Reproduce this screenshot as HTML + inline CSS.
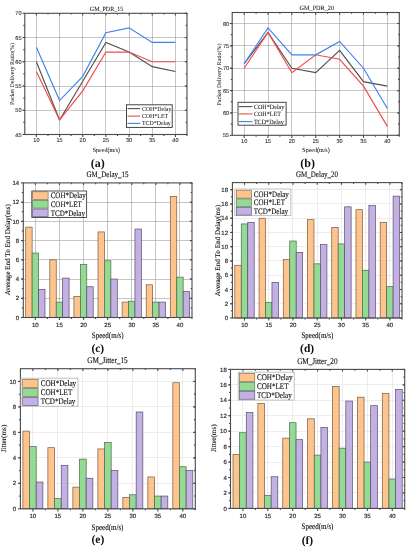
<!DOCTYPE html>
<html><head><meta charset="utf-8"><style>
html,body{margin:0;padding:0;background:#fff;width:409px;height:550px;overflow:hidden;}
svg{display:block;text-rendering:geometricPrecision;filter:blur(0.25px);}
</style></head><body>
<svg width="409" height="550" viewBox="0 0 409 550"><g stroke="#a0a0a0" stroke-width="0.6"><line x1="36.5" y1="13.3" x2="36.5" y2="134.5"/><line x1="59.5" y1="13.3" x2="59.5" y2="134.5"/><line x1="82.5" y1="13.3" x2="82.5" y2="134.5"/><line x1="105.5" y1="13.3" x2="105.5" y2="134.5"/><line x1="129.5" y1="13.3" x2="129.5" y2="134.5"/><line x1="152.5" y1="13.3" x2="152.5" y2="134.5"/><line x1="175.5" y1="13.3" x2="175.5" y2="134.5"/><line x1="24.8" y1="110.5" x2="187" y2="110.5"/><line x1="24.8" y1="86.5" x2="187" y2="86.5"/><line x1="24.8" y1="61.5" x2="187" y2="61.5"/><line x1="24.8" y1="37.5" x2="187" y2="37.5"/></g>
<polyline fill="none" stroke="#505050" stroke-width="1.15" stroke-linejoin="miter" points="36.39,61.78 59.56,119.96 82.73,81.17 105.9,42.39 129.07,52.08 152.24,66.63 175.41,71.48"/>
<polyline fill="none" stroke="#f24a4a" stroke-width="1.15" stroke-linejoin="miter" points="36.39,71.48 59.56,119.96 82.73,90.87 105.9,52.08 129.07,52.08 152.24,61.78 175.41,61.78"/>
<polyline fill="none" stroke="#3d82ec" stroke-width="1.15" stroke-linejoin="miter" points="36.39,47.24 59.56,100.56 82.73,76.32 105.9,32.69 129.07,27.84 152.24,42.39 175.41,42.39"/>
<g stroke="#4a4a4a" stroke-width="1.1" fill="none"><rect x="24.8" y="13.3" width="162.2" height="121.2" fill="none"/><line x1="36.39" y1="134.5" x2="36.39" y2="137.1"/><line x1="36.39" y1="13.3" x2="36.39" y2="15.5"/><line x1="59.56" y1="134.5" x2="59.56" y2="137.1"/><line x1="59.56" y1="13.3" x2="59.56" y2="15.5"/><line x1="82.73" y1="134.5" x2="82.73" y2="137.1"/><line x1="82.73" y1="13.3" x2="82.73" y2="15.5"/><line x1="105.9" y1="134.5" x2="105.9" y2="137.1"/><line x1="105.9" y1="13.3" x2="105.9" y2="15.5"/><line x1="129.07" y1="134.5" x2="129.07" y2="137.1"/><line x1="129.07" y1="13.3" x2="129.07" y2="15.5"/><line x1="152.24" y1="134.5" x2="152.24" y2="137.1"/><line x1="152.24" y1="13.3" x2="152.24" y2="15.5"/><line x1="175.41" y1="134.5" x2="175.41" y2="137.1"/><line x1="175.41" y1="13.3" x2="175.41" y2="15.5"/><line x1="47.97" y1="134.5" x2="47.97" y2="136"/><line x1="47.97" y1="13.3" x2="47.97" y2="14.6"/><line x1="71.14" y1="134.5" x2="71.14" y2="136"/><line x1="71.14" y1="13.3" x2="71.14" y2="14.6"/><line x1="94.31" y1="134.5" x2="94.31" y2="136"/><line x1="94.31" y1="13.3" x2="94.31" y2="14.6"/><line x1="117.49" y1="134.5" x2="117.49" y2="136"/><line x1="117.49" y1="13.3" x2="117.49" y2="14.6"/><line x1="140.66" y1="134.5" x2="140.66" y2="136"/><line x1="140.66" y1="13.3" x2="140.66" y2="14.6"/><line x1="163.83" y1="134.5" x2="163.83" y2="136"/><line x1="163.83" y1="13.3" x2="163.83" y2="14.6"/><line x1="187" y1="134.5" x2="187" y2="136"/><line x1="187" y1="13.3" x2="187" y2="14.6"/><line x1="22.4" y1="134.5" x2="24.8" y2="134.5"/><line x1="184.8" y1="134.5" x2="187" y2="134.5"/><line x1="22.4" y1="110.26" x2="24.8" y2="110.26"/><line x1="184.8" y1="110.26" x2="187" y2="110.26"/><line x1="22.4" y1="86.02" x2="24.8" y2="86.02"/><line x1="184.8" y1="86.02" x2="187" y2="86.02"/><line x1="22.4" y1="61.78" x2="24.8" y2="61.78"/><line x1="184.8" y1="61.78" x2="187" y2="61.78"/><line x1="22.4" y1="37.54" x2="24.8" y2="37.54"/><line x1="184.8" y1="37.54" x2="187" y2="37.54"/><line x1="22.4" y1="13.3" x2="24.8" y2="13.3"/><line x1="184.8" y1="13.3" x2="187" y2="13.3"/><line x1="23.3" y1="122.38" x2="24.8" y2="122.38"/><line x1="185.7" y1="122.38" x2="187" y2="122.38"/><line x1="23.3" y1="110.26" x2="24.8" y2="110.26"/><line x1="185.7" y1="110.26" x2="187" y2="110.26"/><line x1="23.3" y1="98.14" x2="24.8" y2="98.14"/><line x1="185.7" y1="98.14" x2="187" y2="98.14"/><line x1="23.3" y1="86.02" x2="24.8" y2="86.02"/><line x1="185.7" y1="86.02" x2="187" y2="86.02"/><line x1="23.3" y1="73.9" x2="24.8" y2="73.9"/><line x1="185.7" y1="73.9" x2="187" y2="73.9"/><line x1="23.3" y1="61.78" x2="24.8" y2="61.78"/><line x1="185.7" y1="61.78" x2="187" y2="61.78"/><line x1="23.3" y1="49.66" x2="24.8" y2="49.66"/><line x1="185.7" y1="49.66" x2="187" y2="49.66"/><line x1="23.3" y1="37.54" x2="24.8" y2="37.54"/><line x1="185.7" y1="37.54" x2="187" y2="37.54"/><line x1="23.3" y1="25.42" x2="24.8" y2="25.42"/><line x1="185.7" y1="25.42" x2="187" y2="25.42"/></g>
<g font-family='"Liberation Sans", sans-serif' font-size="5.6" fill="#333" stroke="#333" stroke-width="0.1"><text x="36.39" y="142.4" text-anchor="middle">10</text><text x="59.56" y="142.4" text-anchor="middle">15</text><text x="82.73" y="142.4" text-anchor="middle">20</text><text x="105.9" y="142.4" text-anchor="middle">25</text><text x="129.07" y="142.4" text-anchor="middle">30</text><text x="152.24" y="142.4" text-anchor="middle">35</text><text x="175.41" y="142.4" text-anchor="middle">40</text><text x="21.6" y="136.52" text-anchor="end">45</text><text x="21.6" y="112.28" text-anchor="end">50</text><text x="21.6" y="88.04" text-anchor="end">55</text><text x="21.6" y="63.8" text-anchor="end">60</text><text x="21.6" y="39.56" text-anchor="end">65</text><text x="21.6" y="15.32" text-anchor="end">70</text></g>
<text transform="translate(106.5,10.8) scale(1,1.05)" x="0" y="0" text-anchor="middle" font-family='"Liberation Serif", serif' font-size="6" fill="#111" stroke="#111" stroke-width="0.04">GM_PDR_15</text>
<text transform="translate(106.4,151.6) scale(1,1.05)" x="0" y="0" text-anchor="middle" font-family='"Liberation Serif", serif' font-size="6" fill="#111" stroke="#111" stroke-width="0.04">Speed(m/s)</text>
<text transform="translate(12,74) rotate(-90)" x="0" y="1.98" text-anchor="middle" font-family='"Liberation Serif", serif' font-size="6" fill="#111" stroke="#111" stroke-width="0.04">Packet Delivery Ratio(%)</text>
<text transform="translate(97.8,167.2)" x="0" y="0" text-anchor="middle" font-family='"Liberation Serif", serif' font-size="12" fill="#111" font-weight="bold">(a)</text>
<rect x="126.5" y="104.8" width="45.7" height="22.6" fill="#fff" stroke="#333" stroke-width="0.9"/>
<line x1="127.6" y1="108.6" x2="140.2" y2="108.6" stroke="#505050" stroke-width="1.1"/>
<text transform="translate(141.9,110.64) scale(1,1.05)" x="0" y="0" text-anchor="start" font-family='"Liberation Serif", serif' font-size="5.9" fill="#111" stroke="#111" stroke-width="0.03">COH*Delay</text>
<line x1="127.6" y1="116.1" x2="140.2" y2="116.1" stroke="#f24a4a" stroke-width="1.1"/>
<text transform="translate(141.9,118.14) scale(1,1.05)" x="0" y="0" text-anchor="start" font-family='"Liberation Serif", serif' font-size="5.9" fill="#111" stroke="#111" stroke-width="0.03">COH*LET</text>
<line x1="127.6" y1="123.4" x2="140.2" y2="123.4" stroke="#3d82ec" stroke-width="1.1"/>
<text transform="translate(141.9,125.44) scale(1,1.05)" x="0" y="0" text-anchor="start" font-family='"Liberation Serif", serif' font-size="5.9" fill="#111" stroke="#111" stroke-width="0.03">TCD*Delay</text>
<g stroke="#a0a0a0" stroke-width="0.6"><line x1="244.5" y1="12.5" x2="244.5" y2="135.3"/><line x1="268.5" y1="12.5" x2="268.5" y2="135.3"/><line x1="291.5" y1="12.5" x2="291.5" y2="135.3"/><line x1="315.5" y1="12.5" x2="315.5" y2="135.3"/><line x1="339.5" y1="12.5" x2="339.5" y2="135.3"/><line x1="363.5" y1="12.5" x2="363.5" y2="135.3"/><line x1="387.5" y1="12.5" x2="387.5" y2="135.3"/><line x1="232.2" y1="112.5" x2="399.3" y2="112.5"/><line x1="232.2" y1="90.5" x2="399.3" y2="90.5"/><line x1="232.2" y1="68.5" x2="399.3" y2="68.5"/><line x1="232.2" y1="45.5" x2="399.3" y2="45.5"/><line x1="232.2" y1="23.5" x2="399.3" y2="23.5"/></g>
<polyline fill="none" stroke="#505050" stroke-width="1.15" stroke-linejoin="miter" points="244.14,63.75 268.01,32.44 291.88,68.22 315.75,72.69 339.62,50.33 363.49,81.64 387.36,86.11"/>
<polyline fill="none" stroke="#f24a4a" stroke-width="1.15" stroke-linejoin="miter" points="244.14,68.22 268.01,32.44 291.88,72.69 315.75,54.8 339.62,59.28 363.49,86.11 387.36,126.36"/>
<polyline fill="none" stroke="#3d82ec" stroke-width="1.15" stroke-linejoin="miter" points="244.14,63.75 268.01,27.97 291.88,54.8 315.75,54.8 339.62,41.39 363.49,68.22 387.36,108.47"/>
<g stroke="#4a4a4a" stroke-width="1.1" fill="none"><rect x="232.2" y="12.5" width="167.1" height="122.8" fill="none"/><line x1="244.14" y1="135.3" x2="244.14" y2="137.9"/><line x1="244.14" y1="12.5" x2="244.14" y2="14.7"/><line x1="268.01" y1="135.3" x2="268.01" y2="137.9"/><line x1="268.01" y1="12.5" x2="268.01" y2="14.7"/><line x1="291.88" y1="135.3" x2="291.88" y2="137.9"/><line x1="291.88" y1="12.5" x2="291.88" y2="14.7"/><line x1="315.75" y1="135.3" x2="315.75" y2="137.9"/><line x1="315.75" y1="12.5" x2="315.75" y2="14.7"/><line x1="339.62" y1="135.3" x2="339.62" y2="137.9"/><line x1="339.62" y1="12.5" x2="339.62" y2="14.7"/><line x1="363.49" y1="135.3" x2="363.49" y2="137.9"/><line x1="363.49" y1="12.5" x2="363.49" y2="14.7"/><line x1="387.36" y1="135.3" x2="387.36" y2="137.9"/><line x1="387.36" y1="12.5" x2="387.36" y2="14.7"/><line x1="256.07" y1="135.3" x2="256.07" y2="136.8"/><line x1="256.07" y1="12.5" x2="256.07" y2="13.8"/><line x1="279.94" y1="135.3" x2="279.94" y2="136.8"/><line x1="279.94" y1="12.5" x2="279.94" y2="13.8"/><line x1="303.81" y1="135.3" x2="303.81" y2="136.8"/><line x1="303.81" y1="12.5" x2="303.81" y2="13.8"/><line x1="327.69" y1="135.3" x2="327.69" y2="136.8"/><line x1="327.69" y1="12.5" x2="327.69" y2="13.8"/><line x1="351.56" y1="135.3" x2="351.56" y2="136.8"/><line x1="351.56" y1="12.5" x2="351.56" y2="13.8"/><line x1="375.43" y1="135.3" x2="375.43" y2="136.8"/><line x1="375.43" y1="12.5" x2="375.43" y2="13.8"/><line x1="399.3" y1="135.3" x2="399.3" y2="136.8"/><line x1="399.3" y1="12.5" x2="399.3" y2="13.8"/><line x1="229.8" y1="135.3" x2="232.2" y2="135.3"/><line x1="397.1" y1="135.3" x2="399.3" y2="135.3"/><line x1="229.8" y1="112.94" x2="232.2" y2="112.94"/><line x1="397.1" y1="112.94" x2="399.3" y2="112.94"/><line x1="229.8" y1="90.58" x2="232.2" y2="90.58"/><line x1="397.1" y1="90.58" x2="399.3" y2="90.58"/><line x1="229.8" y1="68.22" x2="232.2" y2="68.22"/><line x1="397.1" y1="68.22" x2="399.3" y2="68.22"/><line x1="229.8" y1="45.86" x2="232.2" y2="45.86"/><line x1="397.1" y1="45.86" x2="399.3" y2="45.86"/><line x1="229.8" y1="23.5" x2="232.2" y2="23.5"/><line x1="397.1" y1="23.5" x2="399.3" y2="23.5"/><line x1="230.7" y1="124.12" x2="232.2" y2="124.12"/><line x1="398" y1="124.12" x2="399.3" y2="124.12"/><line x1="230.7" y1="112.94" x2="232.2" y2="112.94"/><line x1="398" y1="112.94" x2="399.3" y2="112.94"/><line x1="230.7" y1="101.76" x2="232.2" y2="101.76"/><line x1="398" y1="101.76" x2="399.3" y2="101.76"/><line x1="230.7" y1="90.58" x2="232.2" y2="90.58"/><line x1="398" y1="90.58" x2="399.3" y2="90.58"/><line x1="230.7" y1="79.4" x2="232.2" y2="79.4"/><line x1="398" y1="79.4" x2="399.3" y2="79.4"/><line x1="230.7" y1="68.22" x2="232.2" y2="68.22"/><line x1="398" y1="68.22" x2="399.3" y2="68.22"/><line x1="230.7" y1="57.04" x2="232.2" y2="57.04"/><line x1="398" y1="57.04" x2="399.3" y2="57.04"/><line x1="230.7" y1="45.86" x2="232.2" y2="45.86"/><line x1="398" y1="45.86" x2="399.3" y2="45.86"/><line x1="230.7" y1="34.68" x2="232.2" y2="34.68"/><line x1="398" y1="34.68" x2="399.3" y2="34.68"/><line x1="230.7" y1="23.5" x2="232.2" y2="23.5"/><line x1="398" y1="23.5" x2="399.3" y2="23.5"/></g>
<g font-family='"Liberation Sans", sans-serif' font-size="5.6" fill="#333" stroke="#333" stroke-width="0.1"><text x="244.14" y="143.2" text-anchor="middle">10</text><text x="268.01" y="143.2" text-anchor="middle">15</text><text x="291.88" y="143.2" text-anchor="middle">20</text><text x="315.75" y="143.2" text-anchor="middle">25</text><text x="339.62" y="143.2" text-anchor="middle">30</text><text x="363.49" y="143.2" text-anchor="middle">35</text><text x="387.36" y="143.2" text-anchor="middle">40</text><text x="229.2" y="137.32" text-anchor="end">55</text><text x="229.2" y="114.96" text-anchor="end">60</text><text x="229.2" y="92.6" text-anchor="end">65</text><text x="229.2" y="70.24" text-anchor="end">70</text><text x="229.2" y="47.88" text-anchor="end">75</text><text x="229.2" y="25.52" text-anchor="end">80</text></g>
<text transform="translate(316.8,9.9) scale(1,1.05)" x="0" y="0" text-anchor="middle" font-family='"Liberation Serif", serif' font-size="6.2" fill="#111" stroke="#111" stroke-width="0.05">GM_PDR_20</text>
<text transform="translate(316,152.4) scale(1,1.05)" x="0" y="0" text-anchor="middle" font-family='"Liberation Serif", serif' font-size="6" fill="#111" stroke="#111" stroke-width="0.04">Speed(m/s)</text>
<text transform="translate(218.6,74.5) rotate(-90)" x="0" y="1.98" text-anchor="middle" font-family='"Liberation Serif", serif' font-size="6" fill="#111" stroke="#111" stroke-width="0.04">Packet Delivery Ratio(%)</text>
<text transform="translate(307.6,167.2)" x="0" y="0" text-anchor="middle" font-family='"Liberation Serif", serif' font-size="12" fill="#111" font-weight="bold">(b)</text>
<rect x="238" y="102.3" width="48.1" height="22.9" fill="#fff" stroke="#333" stroke-width="0.9"/>
<line x1="238.8" y1="106.6" x2="252.4" y2="106.6" stroke="#505050" stroke-width="1.1"/>
<text transform="translate(253.9,108.71) scale(1,1.05)" x="0" y="0" text-anchor="start" font-family='"Liberation Serif", serif' font-size="6.1" fill="#111" stroke="#111" stroke-width="0.04">COH*Delay</text>
<line x1="238.8" y1="113.9" x2="252.4" y2="113.9" stroke="#f24a4a" stroke-width="1.1"/>
<text transform="translate(253.9,116.01) scale(1,1.05)" x="0" y="0" text-anchor="start" font-family='"Liberation Serif", serif' font-size="6.1" fill="#111" stroke="#111" stroke-width="0.04">COH*LET</text>
<line x1="238.8" y1="121.6" x2="252.4" y2="121.6" stroke="#3d82ec" stroke-width="1.1"/>
<text transform="translate(253.9,123.71) scale(1,1.05)" x="0" y="0" text-anchor="start" font-family='"Liberation Serif", serif' font-size="6.1" fill="#111" stroke="#111" stroke-width="0.04">TCD*Delay</text>
<g stroke="#a0a0a0" stroke-width="0.6"><line x1="35.5" y1="182.9" x2="35.5" y2="317.5"/><line x1="59.5" y1="182.9" x2="59.5" y2="317.5"/><line x1="83.5" y1="182.9" x2="83.5" y2="317.5"/><line x1="107.5" y1="182.9" x2="107.5" y2="317.5"/><line x1="131.5" y1="182.9" x2="131.5" y2="317.5"/><line x1="155.5" y1="182.9" x2="155.5" y2="317.5"/><line x1="179.5" y1="182.9" x2="179.5" y2="317.5"/><line x1="23.3" y1="298.5" x2="192" y2="298.5"/><line x1="23.3" y1="279.5" x2="192" y2="279.5"/><line x1="23.3" y1="259.5" x2="192" y2="259.5"/><line x1="23.3" y1="240.5" x2="192" y2="240.5"/><line x1="23.3" y1="221.5" x2="192" y2="221.5"/><line x1="23.3" y1="202.5" x2="192" y2="202.5"/></g>
<g fill="#fdc48e" stroke="#7a5a40" stroke-width="0.7"><rect x="25.71" y="227.13" width="6.43" height="90.37"/><rect x="49.81" y="259.81" width="6.43" height="57.69"/><rect x="73.91" y="296.35" width="6.43" height="21.15"/><rect x="98.01" y="231.93" width="6.43" height="85.57"/><rect x="122.11" y="302.12" width="6.43" height="15.38"/><rect x="146.21" y="284.81" width="6.43" height="32.69"/><rect x="170.31" y="196.36" width="6.43" height="121.14"/></g>
<g fill="#94da94" stroke="#4a6a4a" stroke-width="0.7"><rect x="32.14" y="253.08" width="6.43" height="64.42"/><rect x="56.24" y="302.12" width="6.43" height="15.38"/><rect x="80.34" y="264.62" width="6.43" height="52.88"/><rect x="104.44" y="260.78" width="6.43" height="56.72"/><rect x="128.54" y="301.16" width="6.43" height="16.34"/><rect x="152.64" y="302.12" width="6.43" height="15.38"/><rect x="176.74" y="277.12" width="6.43" height="40.38"/></g>
<g fill="#c3b1e2" stroke="#5a4a70" stroke-width="0.7"><rect x="38.56" y="289.62" width="6.43" height="27.88"/><rect x="62.66" y="278.08" width="6.43" height="39.42"/><rect x="86.76" y="286.73" width="6.43" height="30.77"/><rect x="110.86" y="279.04" width="6.43" height="38.46"/><rect x="134.96" y="229.05" width="6.43" height="88.45"/><rect x="159.06" y="302.12" width="6.43" height="15.38"/><rect x="183.16" y="291.54" width="6.43" height="25.96"/></g>
<g stroke="#4a4a4a" stroke-width="1.1" fill="none"><rect x="23.3" y="182.9" width="168.7" height="134.6" fill="none"/><line x1="35.35" y1="317.5" x2="35.35" y2="320.1"/><line x1="35.35" y1="182.9" x2="35.35" y2="185.1"/><line x1="59.45" y1="317.5" x2="59.45" y2="320.1"/><line x1="59.45" y1="182.9" x2="59.45" y2="185.1"/><line x1="83.55" y1="317.5" x2="83.55" y2="320.1"/><line x1="83.55" y1="182.9" x2="83.55" y2="185.1"/><line x1="107.65" y1="317.5" x2="107.65" y2="320.1"/><line x1="107.65" y1="182.9" x2="107.65" y2="185.1"/><line x1="131.75" y1="317.5" x2="131.75" y2="320.1"/><line x1="131.75" y1="182.9" x2="131.75" y2="185.1"/><line x1="155.85" y1="317.5" x2="155.85" y2="320.1"/><line x1="155.85" y1="182.9" x2="155.85" y2="185.1"/><line x1="179.95" y1="317.5" x2="179.95" y2="320.1"/><line x1="179.95" y1="182.9" x2="179.95" y2="185.1"/><line x1="47.4" y1="317.5" x2="47.4" y2="319"/><line x1="47.4" y1="182.9" x2="47.4" y2="184.2"/><line x1="71.5" y1="317.5" x2="71.5" y2="319"/><line x1="71.5" y1="182.9" x2="71.5" y2="184.2"/><line x1="95.6" y1="317.5" x2="95.6" y2="319"/><line x1="95.6" y1="182.9" x2="95.6" y2="184.2"/><line x1="119.7" y1="317.5" x2="119.7" y2="319"/><line x1="119.7" y1="182.9" x2="119.7" y2="184.2"/><line x1="143.8" y1="317.5" x2="143.8" y2="319"/><line x1="143.8" y1="182.9" x2="143.8" y2="184.2"/><line x1="167.9" y1="317.5" x2="167.9" y2="319"/><line x1="167.9" y1="182.9" x2="167.9" y2="184.2"/><line x1="192" y1="317.5" x2="192" y2="319"/><line x1="192" y1="182.9" x2="192" y2="184.2"/><line x1="20.9" y1="317.5" x2="23.3" y2="317.5"/><line x1="189.8" y1="317.5" x2="192" y2="317.5"/><line x1="20.9" y1="298.27" x2="23.3" y2="298.27"/><line x1="189.8" y1="298.27" x2="192" y2="298.27"/><line x1="20.9" y1="279.04" x2="23.3" y2="279.04"/><line x1="189.8" y1="279.04" x2="192" y2="279.04"/><line x1="20.9" y1="259.81" x2="23.3" y2="259.81"/><line x1="189.8" y1="259.81" x2="192" y2="259.81"/><line x1="20.9" y1="240.59" x2="23.3" y2="240.59"/><line x1="189.8" y1="240.59" x2="192" y2="240.59"/><line x1="20.9" y1="221.36" x2="23.3" y2="221.36"/><line x1="189.8" y1="221.36" x2="192" y2="221.36"/><line x1="20.9" y1="202.13" x2="23.3" y2="202.13"/><line x1="189.8" y1="202.13" x2="192" y2="202.13"/><line x1="20.9" y1="182.9" x2="23.3" y2="182.9"/><line x1="189.8" y1="182.9" x2="192" y2="182.9"/><line x1="21.8" y1="307.89" x2="23.3" y2="307.89"/><line x1="190.7" y1="307.89" x2="192" y2="307.89"/><line x1="21.8" y1="298.27" x2="23.3" y2="298.27"/><line x1="190.7" y1="298.27" x2="192" y2="298.27"/><line x1="21.8" y1="288.66" x2="23.3" y2="288.66"/><line x1="190.7" y1="288.66" x2="192" y2="288.66"/><line x1="21.8" y1="279.04" x2="23.3" y2="279.04"/><line x1="190.7" y1="279.04" x2="192" y2="279.04"/><line x1="21.8" y1="269.43" x2="23.3" y2="269.43"/><line x1="190.7" y1="269.43" x2="192" y2="269.43"/><line x1="21.8" y1="259.81" x2="23.3" y2="259.81"/><line x1="190.7" y1="259.81" x2="192" y2="259.81"/><line x1="21.8" y1="250.2" x2="23.3" y2="250.2"/><line x1="190.7" y1="250.2" x2="192" y2="250.2"/><line x1="21.8" y1="240.59" x2="23.3" y2="240.59"/><line x1="190.7" y1="240.59" x2="192" y2="240.59"/><line x1="21.8" y1="230.97" x2="23.3" y2="230.97"/><line x1="190.7" y1="230.97" x2="192" y2="230.97"/><line x1="21.8" y1="221.36" x2="23.3" y2="221.36"/><line x1="190.7" y1="221.36" x2="192" y2="221.36"/><line x1="21.8" y1="211.74" x2="23.3" y2="211.74"/><line x1="190.7" y1="211.74" x2="192" y2="211.74"/><line x1="21.8" y1="202.13" x2="23.3" y2="202.13"/><line x1="190.7" y1="202.13" x2="192" y2="202.13"/><line x1="21.8" y1="192.51" x2="23.3" y2="192.51"/><line x1="190.7" y1="192.51" x2="192" y2="192.51"/></g>
<g font-family='"Liberation Sans", sans-serif' font-size="6" fill="#333" stroke="#333" stroke-width="0.2"><text x="35.35" y="327" text-anchor="middle">10</text><text x="59.45" y="327" text-anchor="middle">15</text><text x="83.55" y="327" text-anchor="middle">20</text><text x="107.65" y="327" text-anchor="middle">25</text><text x="131.75" y="327" text-anchor="middle">30</text><text x="155.85" y="327" text-anchor="middle">35</text><text x="179.95" y="327" text-anchor="middle">40</text><text x="19.2" y="319.66" text-anchor="end">0</text><text x="19.2" y="300.43" text-anchor="end">2</text><text x="19.2" y="281.2" text-anchor="end">4</text><text x="19.2" y="261.97" text-anchor="end">6</text><text x="19.2" y="242.75" text-anchor="end">8</text><text x="19.2" y="223.52" text-anchor="end">10</text><text x="19.2" y="204.29" text-anchor="end">12</text><text x="19.2" y="185.06" text-anchor="end">14</text></g>
<text transform="translate(107.5,177.3) scale(1,1.2)" x="0" y="0" text-anchor="middle" font-family='"Liberation Serif", serif' font-size="7" fill="#111" stroke="#111" stroke-width="0.11">GM_Delay_15</text>
<text transform="translate(107.7,337.6) scale(1,1.2)" x="0" y="0" text-anchor="middle" font-family='"Liberation Serif", serif' font-size="7" fill="#111" stroke="#111" stroke-width="0.11">Speed(m/s)</text>
<text transform="translate(7.7,249.7) rotate(-90)" x="0" y="2.36" text-anchor="middle" font-family='"Liberation Serif", serif' font-size="7.15" fill="#111" stroke="#111" stroke-width="0.12">Average End To End Delay(ms)</text>
<text transform="translate(97.8,352.4)" x="0" y="0" text-anchor="middle" font-family='"Liberation Serif", serif' font-size="11.5" fill="#111" font-weight="bold">(c)</text>
<rect x="31.8" y="191" width="54.8" height="26.5" fill="#fff" stroke="#444" stroke-width="0.9"/>
<rect x="32.7" y="191.8" width="15.4" height="7.8" fill="#fdc48e" stroke="#7a5a40" stroke-width="0.6"/>
<text transform="translate(50.7,198.47) scale(1,1.2)" x="0" y="0" text-anchor="start" font-family='"Liberation Serif", serif' font-size="7" fill="#111" stroke="#111" stroke-width="0.11">COH*Delay</text>
<rect x="32.7" y="200.4" width="15.4" height="7.7" fill="#94da94" stroke="#4a6a4a" stroke-width="0.6"/>
<text transform="translate(50.7,207.02) scale(1,1.2)" x="0" y="0" text-anchor="start" font-family='"Liberation Serif", serif' font-size="7" fill="#111" stroke="#111" stroke-width="0.11">COH*LET</text>
<rect x="32.7" y="209" width="15.4" height="7.7" fill="#c3b1e2" stroke="#5a4a70" stroke-width="0.6"/>
<text transform="translate(50.7,215.62) scale(1,1.2)" x="0" y="0" text-anchor="start" font-family='"Liberation Serif", serif' font-size="7" fill="#111" stroke="#111" stroke-width="0.11">TCD*Delay</text>
<g stroke="#e8e8e8" stroke-width="0.8"><line x1="244.5" y1="182.6" x2="244.5" y2="318"/><line x1="268.5" y1="182.6" x2="268.5" y2="318"/><line x1="292.5" y1="182.6" x2="292.5" y2="318"/><line x1="317.5" y1="182.6" x2="317.5" y2="318"/><line x1="341.5" y1="182.6" x2="341.5" y2="318"/><line x1="365.5" y1="182.6" x2="365.5" y2="318"/><line x1="389.5" y1="182.6" x2="389.5" y2="318"/><line x1="232.4" y1="303.5" x2="402" y2="303.5"/><line x1="232.4" y1="289.5" x2="402" y2="289.5"/><line x1="232.4" y1="275.5" x2="402" y2="275.5"/><line x1="232.4" y1="260.5" x2="402" y2="260.5"/><line x1="232.4" y1="246.5" x2="402" y2="246.5"/><line x1="232.4" y1="232.5" x2="402" y2="232.5"/><line x1="232.4" y1="218.5" x2="402" y2="218.5"/><line x1="232.4" y1="203.5" x2="402" y2="203.5"/><line x1="232.4" y1="189.5" x2="402" y2="189.5"/></g>
<g fill="#fdc48e" stroke="#7a5a40" stroke-width="0.7"><rect x="234.82" y="265.27" width="6.46" height="52.73"/><rect x="259.05" y="218.23" width="6.46" height="99.77"/><rect x="283.28" y="259.56" width="6.46" height="58.44"/><rect x="307.51" y="219.66" width="6.46" height="98.34"/><rect x="331.74" y="227.5" width="6.46" height="90.5"/><rect x="355.97" y="209.68" width="6.46" height="108.32"/><rect x="380.19" y="222.51" width="6.46" height="95.49"/></g>
<g fill="#94da94" stroke="#4a6a4a" stroke-width="0.7"><rect x="241.28" y="223.93" width="6.46" height="94.07"/><rect x="265.51" y="302.32" width="6.46" height="15.68"/><rect x="289.74" y="241.04" width="6.46" height="76.96"/><rect x="313.97" y="263.84" width="6.46" height="54.16"/><rect x="338.2" y="243.89" width="6.46" height="74.11"/><rect x="362.43" y="270.25" width="6.46" height="47.75"/><rect x="386.66" y="286.64" width="6.46" height="31.36"/></g>
<g fill="#c3b1e2" stroke="#5a4a70" stroke-width="0.7"><rect x="247.74" y="222.51" width="6.46" height="95.49"/><rect x="271.97" y="282.37" width="6.46" height="35.63"/><rect x="296.2" y="252.44" width="6.46" height="65.56"/><rect x="320.43" y="244.6" width="6.46" height="73.4"/><rect x="344.66" y="206.83" width="6.46" height="111.17"/><rect x="368.89" y="205.4" width="6.46" height="112.6"/><rect x="393.12" y="196.14" width="6.46" height="121.86"/></g>
<g stroke="#4a4a4a" stroke-width="1.1" fill="none"><rect x="232.4" y="182.6" width="169.6" height="135.4" fill="none"/><line x1="244.51" y1="318" x2="244.51" y2="320.6"/><line x1="244.51" y1="182.6" x2="244.51" y2="184.8"/><line x1="268.74" y1="318" x2="268.74" y2="320.6"/><line x1="268.74" y1="182.6" x2="268.74" y2="184.8"/><line x1="292.97" y1="318" x2="292.97" y2="320.6"/><line x1="292.97" y1="182.6" x2="292.97" y2="184.8"/><line x1="317.2" y1="318" x2="317.2" y2="320.6"/><line x1="317.2" y1="182.6" x2="317.2" y2="184.8"/><line x1="341.43" y1="318" x2="341.43" y2="320.6"/><line x1="341.43" y1="182.6" x2="341.43" y2="184.8"/><line x1="365.66" y1="318" x2="365.66" y2="320.6"/><line x1="365.66" y1="182.6" x2="365.66" y2="184.8"/><line x1="389.89" y1="318" x2="389.89" y2="320.6"/><line x1="389.89" y1="182.6" x2="389.89" y2="184.8"/><line x1="256.63" y1="318" x2="256.63" y2="319.5"/><line x1="256.63" y1="182.6" x2="256.63" y2="183.9"/><line x1="280.86" y1="318" x2="280.86" y2="319.5"/><line x1="280.86" y1="182.6" x2="280.86" y2="183.9"/><line x1="305.09" y1="318" x2="305.09" y2="319.5"/><line x1="305.09" y1="182.6" x2="305.09" y2="183.9"/><line x1="329.31" y1="318" x2="329.31" y2="319.5"/><line x1="329.31" y1="182.6" x2="329.31" y2="183.9"/><line x1="353.54" y1="318" x2="353.54" y2="319.5"/><line x1="353.54" y1="182.6" x2="353.54" y2="183.9"/><line x1="377.77" y1="318" x2="377.77" y2="319.5"/><line x1="377.77" y1="182.6" x2="377.77" y2="183.9"/><line x1="402" y1="318" x2="402" y2="319.5"/><line x1="402" y1="182.6" x2="402" y2="183.9"/><line x1="230" y1="318" x2="232.4" y2="318"/><line x1="399.8" y1="318" x2="402" y2="318"/><line x1="230" y1="303.75" x2="232.4" y2="303.75"/><line x1="399.8" y1="303.75" x2="402" y2="303.75"/><line x1="230" y1="289.49" x2="232.4" y2="289.49"/><line x1="399.8" y1="289.49" x2="402" y2="289.49"/><line x1="230" y1="275.24" x2="232.4" y2="275.24"/><line x1="399.8" y1="275.24" x2="402" y2="275.24"/><line x1="230" y1="260.99" x2="232.4" y2="260.99"/><line x1="399.8" y1="260.99" x2="402" y2="260.99"/><line x1="230" y1="246.74" x2="232.4" y2="246.74"/><line x1="399.8" y1="246.74" x2="402" y2="246.74"/><line x1="230" y1="232.48" x2="232.4" y2="232.48"/><line x1="399.8" y1="232.48" x2="402" y2="232.48"/><line x1="230" y1="218.23" x2="232.4" y2="218.23"/><line x1="399.8" y1="218.23" x2="402" y2="218.23"/><line x1="230" y1="203.98" x2="232.4" y2="203.98"/><line x1="399.8" y1="203.98" x2="402" y2="203.98"/><line x1="230" y1="189.73" x2="232.4" y2="189.73"/><line x1="399.8" y1="189.73" x2="402" y2="189.73"/><line x1="230.9" y1="310.87" x2="232.4" y2="310.87"/><line x1="400.7" y1="310.87" x2="402" y2="310.87"/><line x1="230.9" y1="303.75" x2="232.4" y2="303.75"/><line x1="400.7" y1="303.75" x2="402" y2="303.75"/><line x1="230.9" y1="296.62" x2="232.4" y2="296.62"/><line x1="400.7" y1="296.62" x2="402" y2="296.62"/><line x1="230.9" y1="289.49" x2="232.4" y2="289.49"/><line x1="400.7" y1="289.49" x2="402" y2="289.49"/><line x1="230.9" y1="282.37" x2="232.4" y2="282.37"/><line x1="400.7" y1="282.37" x2="402" y2="282.37"/><line x1="230.9" y1="275.24" x2="232.4" y2="275.24"/><line x1="400.7" y1="275.24" x2="402" y2="275.24"/><line x1="230.9" y1="268.12" x2="232.4" y2="268.12"/><line x1="400.7" y1="268.12" x2="402" y2="268.12"/><line x1="230.9" y1="260.99" x2="232.4" y2="260.99"/><line x1="400.7" y1="260.99" x2="402" y2="260.99"/><line x1="230.9" y1="253.86" x2="232.4" y2="253.86"/><line x1="400.7" y1="253.86" x2="402" y2="253.86"/><line x1="230.9" y1="246.74" x2="232.4" y2="246.74"/><line x1="400.7" y1="246.74" x2="402" y2="246.74"/><line x1="230.9" y1="239.61" x2="232.4" y2="239.61"/><line x1="400.7" y1="239.61" x2="402" y2="239.61"/><line x1="230.9" y1="232.48" x2="232.4" y2="232.48"/><line x1="400.7" y1="232.48" x2="402" y2="232.48"/><line x1="230.9" y1="225.36" x2="232.4" y2="225.36"/><line x1="400.7" y1="225.36" x2="402" y2="225.36"/><line x1="230.9" y1="218.23" x2="232.4" y2="218.23"/><line x1="400.7" y1="218.23" x2="402" y2="218.23"/><line x1="230.9" y1="211.11" x2="232.4" y2="211.11"/><line x1="400.7" y1="211.11" x2="402" y2="211.11"/><line x1="230.9" y1="203.98" x2="232.4" y2="203.98"/><line x1="400.7" y1="203.98" x2="402" y2="203.98"/><line x1="230.9" y1="196.85" x2="232.4" y2="196.85"/><line x1="400.7" y1="196.85" x2="402" y2="196.85"/><line x1="230.9" y1="189.73" x2="232.4" y2="189.73"/><line x1="400.7" y1="189.73" x2="402" y2="189.73"/></g>
<g font-family='"Liberation Sans", sans-serif' font-size="6" fill="#333" stroke="#333" stroke-width="0.2"><text x="244.51" y="327" text-anchor="middle">10</text><text x="268.74" y="327" text-anchor="middle">15</text><text x="292.97" y="327" text-anchor="middle">20</text><text x="317.2" y="327" text-anchor="middle">25</text><text x="341.43" y="327" text-anchor="middle">30</text><text x="365.66" y="327" text-anchor="middle">35</text><text x="389.89" y="327" text-anchor="middle">40</text><text x="228" y="320.16" text-anchor="end">0</text><text x="228" y="305.91" text-anchor="end">2</text><text x="228" y="291.65" text-anchor="end">4</text><text x="228" y="277.4" text-anchor="end">6</text><text x="228" y="263.15" text-anchor="end">8</text><text x="228" y="248.9" text-anchor="end">10</text><text x="228" y="234.64" text-anchor="end">12</text><text x="228" y="220.39" text-anchor="end">14</text><text x="228" y="206.14" text-anchor="end">16</text><text x="228" y="191.89" text-anchor="end">18</text></g>
<text transform="translate(317,176.9) scale(1,1.2)" x="0" y="0" text-anchor="middle" font-family='"Liberation Serif", serif' font-size="7" fill="#111" stroke="#111" stroke-width="0.11">GM_Delay_20</text>
<text transform="translate(317.4,337.6) scale(1,1.2)" x="0" y="0" text-anchor="middle" font-family='"Liberation Serif", serif' font-size="7" fill="#111" stroke="#111" stroke-width="0.11">Speed(m/s)</text>
<text transform="translate(217.3,250.5) rotate(-90)" x="0" y="2.36" text-anchor="middle" font-family='"Liberation Serif", serif' font-size="7.15" fill="#111" stroke="#111" stroke-width="0.12">Average End To End Delay(ms)</text>
<text transform="translate(307.1,352.2)" x="0" y="0" text-anchor="middle" font-family='"Liberation Serif", serif' font-size="11.5" fill="#111" font-weight="bold">(d)</text>
<rect x="234.8" y="189" width="56.1" height="26.6" fill="#fff" stroke="#bbb" stroke-width="0.9"/>
<rect x="236.4" y="190.2" width="15.1" height="7.9" fill="#fdc48e" stroke="#7a5a40" stroke-width="0.6"/>
<text transform="translate(253.8,196.92) scale(1,1.2)" x="0" y="0" text-anchor="start" font-family='"Liberation Serif", serif' font-size="7" fill="#111" stroke="#111" stroke-width="0.11">COH*Delay</text>
<rect x="236.4" y="198.9" width="15.1" height="7.6" fill="#94da94" stroke="#4a6a4a" stroke-width="0.6"/>
<text transform="translate(253.8,205.47) scale(1,1.2)" x="0" y="0" text-anchor="start" font-family='"Liberation Serif", serif' font-size="7" fill="#111" stroke="#111" stroke-width="0.11">COH*LET</text>
<rect x="236.4" y="207.3" width="15.1" height="7.8" fill="#c3b1e2" stroke="#5a4a70" stroke-width="0.6"/>
<text transform="translate(253.8,213.97) scale(1,1.2)" x="0" y="0" text-anchor="start" font-family='"Liberation Serif", serif' font-size="7" fill="#111" stroke="#111" stroke-width="0.11">TCD*Delay</text>
<g stroke="#e8e8e8" stroke-width="0.8"><line x1="32.5" y1="368.7" x2="32.5" y2="508.8"/><line x1="57.5" y1="368.7" x2="57.5" y2="508.8"/><line x1="82.5" y1="368.7" x2="82.5" y2="508.8"/><line x1="107.5" y1="368.7" x2="107.5" y2="508.8"/><line x1="132.5" y1="368.7" x2="132.5" y2="508.8"/><line x1="157.5" y1="368.7" x2="157.5" y2="508.8"/><line x1="182.5" y1="368.7" x2="182.5" y2="508.8"/><line x1="20.4" y1="483.5" x2="195.3" y2="483.5"/><line x1="20.4" y1="457.5" x2="195.3" y2="457.5"/><line x1="20.4" y1="432.5" x2="195.3" y2="432.5"/><line x1="20.4" y1="406.5" x2="195.3" y2="406.5"/><line x1="20.4" y1="381.5" x2="195.3" y2="381.5"/></g>
<g fill="#fdc48e" stroke="#7a5a40" stroke-width="0.7"><rect x="22.9" y="431.11" width="6.66" height="77.69"/><rect x="47.88" y="447.67" width="6.66" height="61.13"/><rect x="72.87" y="487.15" width="6.66" height="21.65"/><rect x="97.86" y="448.94" width="6.66" height="59.86"/><rect x="122.84" y="497.34" width="6.66" height="11.46"/><rect x="147.83" y="476.96" width="6.66" height="31.84"/><rect x="172.81" y="382.71" width="6.66" height="126.09"/></g>
<g fill="#94da94" stroke="#4a6a4a" stroke-width="0.7"><rect x="29.56" y="446.39" width="6.66" height="62.41"/><rect x="54.55" y="498.61" width="6.66" height="10.19"/><rect x="79.53" y="459.13" width="6.66" height="49.67"/><rect x="104.52" y="442.57" width="6.66" height="66.23"/><rect x="129.5" y="494.79" width="6.66" height="14.01"/><rect x="154.49" y="496.06" width="6.66" height="12.74"/><rect x="179.48" y="466.77" width="6.66" height="42.03"/></g>
<g fill="#c3b1e2" stroke="#5a4a70" stroke-width="0.7"><rect x="36.22" y="482.05" width="6.66" height="26.75"/><rect x="61.21" y="465.5" width="6.66" height="43.3"/><rect x="86.2" y="478.23" width="6.66" height="30.57"/><rect x="111.18" y="470.59" width="6.66" height="38.21"/><rect x="136.17" y="412" width="6.66" height="96.8"/><rect x="161.15" y="496.06" width="6.66" height="12.74"/><rect x="186.14" y="470.59" width="6.66" height="38.21"/></g>
<g stroke="#4a4a4a" stroke-width="1.1" fill="none"><rect x="20.4" y="368.7" width="174.9" height="140.1" fill="none"/><line x1="32.89" y1="508.8" x2="32.89" y2="511.4"/><line x1="32.89" y1="368.7" x2="32.89" y2="370.9"/><line x1="57.88" y1="508.8" x2="57.88" y2="511.4"/><line x1="57.88" y1="368.7" x2="57.88" y2="370.9"/><line x1="82.86" y1="508.8" x2="82.86" y2="511.4"/><line x1="82.86" y1="368.7" x2="82.86" y2="370.9"/><line x1="107.85" y1="508.8" x2="107.85" y2="511.4"/><line x1="107.85" y1="368.7" x2="107.85" y2="370.9"/><line x1="132.84" y1="508.8" x2="132.84" y2="511.4"/><line x1="132.84" y1="368.7" x2="132.84" y2="370.9"/><line x1="157.82" y1="508.8" x2="157.82" y2="511.4"/><line x1="157.82" y1="368.7" x2="157.82" y2="370.9"/><line x1="182.81" y1="508.8" x2="182.81" y2="511.4"/><line x1="182.81" y1="368.7" x2="182.81" y2="370.9"/><line x1="45.39" y1="508.8" x2="45.39" y2="510.3"/><line x1="45.39" y1="368.7" x2="45.39" y2="370"/><line x1="70.37" y1="508.8" x2="70.37" y2="510.3"/><line x1="70.37" y1="368.7" x2="70.37" y2="370"/><line x1="95.36" y1="508.8" x2="95.36" y2="510.3"/><line x1="95.36" y1="368.7" x2="95.36" y2="370"/><line x1="120.34" y1="508.8" x2="120.34" y2="510.3"/><line x1="120.34" y1="368.7" x2="120.34" y2="370"/><line x1="145.33" y1="508.8" x2="145.33" y2="510.3"/><line x1="145.33" y1="368.7" x2="145.33" y2="370"/><line x1="170.31" y1="508.8" x2="170.31" y2="510.3"/><line x1="170.31" y1="368.7" x2="170.31" y2="370"/><line x1="195.3" y1="508.8" x2="195.3" y2="510.3"/><line x1="195.3" y1="368.7" x2="195.3" y2="370"/><line x1="18" y1="508.8" x2="20.4" y2="508.8"/><line x1="193.1" y1="508.8" x2="195.3" y2="508.8"/><line x1="18" y1="483.33" x2="20.4" y2="483.33"/><line x1="193.1" y1="483.33" x2="195.3" y2="483.33"/><line x1="18" y1="457.85" x2="20.4" y2="457.85"/><line x1="193.1" y1="457.85" x2="195.3" y2="457.85"/><line x1="18" y1="432.38" x2="20.4" y2="432.38"/><line x1="193.1" y1="432.38" x2="195.3" y2="432.38"/><line x1="18" y1="406.91" x2="20.4" y2="406.91"/><line x1="193.1" y1="406.91" x2="195.3" y2="406.91"/><line x1="18" y1="381.44" x2="20.4" y2="381.44"/><line x1="193.1" y1="381.44" x2="195.3" y2="381.44"/><line x1="18.9" y1="496.06" x2="20.4" y2="496.06"/><line x1="194" y1="496.06" x2="195.3" y2="496.06"/><line x1="18.9" y1="483.33" x2="20.4" y2="483.33"/><line x1="194" y1="483.33" x2="195.3" y2="483.33"/><line x1="18.9" y1="470.59" x2="20.4" y2="470.59"/><line x1="194" y1="470.59" x2="195.3" y2="470.59"/><line x1="18.9" y1="457.85" x2="20.4" y2="457.85"/><line x1="194" y1="457.85" x2="195.3" y2="457.85"/><line x1="18.9" y1="445.12" x2="20.4" y2="445.12"/><line x1="194" y1="445.12" x2="195.3" y2="445.12"/><line x1="18.9" y1="432.38" x2="20.4" y2="432.38"/><line x1="194" y1="432.38" x2="195.3" y2="432.38"/><line x1="18.9" y1="419.65" x2="20.4" y2="419.65"/><line x1="194" y1="419.65" x2="195.3" y2="419.65"/><line x1="18.9" y1="406.91" x2="20.4" y2="406.91"/><line x1="194" y1="406.91" x2="195.3" y2="406.91"/><line x1="18.9" y1="394.17" x2="20.4" y2="394.17"/><line x1="194" y1="394.17" x2="195.3" y2="394.17"/><line x1="18.9" y1="381.44" x2="20.4" y2="381.44"/><line x1="194" y1="381.44" x2="195.3" y2="381.44"/></g>
<g font-family='"Liberation Sans", sans-serif' font-size="6" fill="#333" stroke="#333" stroke-width="0.2"><text x="32.89" y="517.9" text-anchor="middle">10</text><text x="57.88" y="517.9" text-anchor="middle">15</text><text x="82.86" y="517.9" text-anchor="middle">20</text><text x="107.85" y="517.9" text-anchor="middle">25</text><text x="132.84" y="517.9" text-anchor="middle">30</text><text x="157.82" y="517.9" text-anchor="middle">35</text><text x="182.81" y="517.9" text-anchor="middle">40</text><text x="16.2" y="510.96" text-anchor="end">0</text><text x="16.2" y="485.49" text-anchor="end">2</text><text x="16.2" y="460.01" text-anchor="end">4</text><text x="16.2" y="434.54" text-anchor="end">6</text><text x="16.2" y="409.07" text-anchor="end">8</text><text x="16.2" y="383.6" text-anchor="end">10</text></g>
<text transform="translate(107.4,363) scale(1,1.2)" x="0" y="0" text-anchor="middle" font-family='"Liberation Serif", serif' font-size="7.2" fill="#111" stroke="#111" stroke-width="0.12">GM_Jitter_15</text>
<text transform="translate(107.5,529.6) scale(1,1.2)" x="0" y="0" text-anchor="middle" font-family='"Liberation Serif", serif' font-size="7" fill="#111" stroke="#111" stroke-width="0.11">Speed(m/s)</text>
<text transform="translate(4.1,438.5) rotate(-90)" x="0" y="2.38" text-anchor="middle" font-family='"Liberation Serif", serif' font-size="7.2" fill="#111" stroke="#111" stroke-width="0.12">Jitter(ms)</text>
<text transform="translate(97.9,543.4)" x="0" y="0" text-anchor="middle" font-family='"Liberation Serif", serif' font-size="11.5" fill="#111" font-weight="bold">(e)</text>
<rect x="21" y="378.2" width="57" height="28.1" fill="#fff" stroke="#bbb" stroke-width="0.9"/>
<rect x="22.7" y="379.4" width="15.4" height="8.2" fill="#fdc48e" stroke="#7a5a40" stroke-width="0.6"/>
<text transform="translate(40.7,386.31) scale(1,1.2)" x="0" y="0" text-anchor="start" font-family='"Liberation Serif", serif' font-size="7.1" fill="#111" stroke="#111" stroke-width="0.11">COH*Delay</text>
<rect x="22.7" y="388.5" width="15.4" height="8" fill="#94da94" stroke="#4a6a4a" stroke-width="0.6"/>
<text transform="translate(40.7,395.31) scale(1,1.2)" x="0" y="0" text-anchor="start" font-family='"Liberation Serif", serif' font-size="7.1" fill="#111" stroke="#111" stroke-width="0.11">COH*LET</text>
<rect x="22.7" y="397.4" width="15.4" height="8.2" fill="#c3b1e2" stroke="#5a4a70" stroke-width="0.6"/>
<text transform="translate(40.7,404.31) scale(1,1.2)" x="0" y="0" text-anchor="start" font-family='"Liberation Serif", serif' font-size="7.1" fill="#111" stroke="#111" stroke-width="0.11">TCD*Delay</text>
<g stroke="#e8e8e8" stroke-width="0.8"><line x1="242.5" y1="369.4" x2="242.5" y2="508.4"/><line x1="267.5" y1="369.4" x2="267.5" y2="508.4"/><line x1="292.5" y1="369.4" x2="292.5" y2="508.4"/><line x1="317.5" y1="369.4" x2="317.5" y2="508.4"/><line x1="342.5" y1="369.4" x2="342.5" y2="508.4"/><line x1="367.5" y1="369.4" x2="367.5" y2="508.4"/><line x1="392.5" y1="369.4" x2="392.5" y2="508.4"/><line x1="230.5" y1="492.5" x2="404.7" y2="492.5"/><line x1="230.5" y1="477.5" x2="404.7" y2="477.5"/><line x1="230.5" y1="462.5" x2="404.7" y2="462.5"/><line x1="230.5" y1="446.5" x2="404.7" y2="446.5"/><line x1="230.5" y1="431.5" x2="404.7" y2="431.5"/><line x1="230.5" y1="415.5" x2="404.7" y2="415.5"/><line x1="230.5" y1="400.5" x2="404.7" y2="400.5"/><line x1="230.5" y1="384.5" x2="404.7" y2="384.5"/></g>
<g fill="#fdc48e" stroke="#7a5a40" stroke-width="0.7"><rect x="232.99" y="454.34" width="6.64" height="54.06"/><rect x="257.87" y="403.38" width="6.64" height="105.02"/><rect x="282.76" y="438.13" width="6.64" height="70.27"/><rect x="307.65" y="418.82" width="6.64" height="89.58"/><rect x="332.53" y="386.39" width="6.64" height="122.01"/><rect x="357.42" y="397.2" width="6.64" height="111.2"/><rect x="382.3" y="393.34" width="6.64" height="115.06"/></g>
<g fill="#94da94" stroke="#4a6a4a" stroke-width="0.7"><rect x="239.62" y="432.72" width="6.64" height="75.68"/><rect x="264.51" y="495.27" width="6.64" height="13.13"/><rect x="289.4" y="422.68" width="6.64" height="85.72"/><rect x="314.28" y="455.12" width="6.64" height="53.28"/><rect x="339.17" y="448.17" width="6.64" height="60.23"/><rect x="364.05" y="462.07" width="6.64" height="46.33"/><rect x="388.94" y="479.06" width="6.64" height="29.34"/></g>
<g fill="#c3b1e2" stroke="#5a4a70" stroke-width="0.7"><rect x="246.26" y="412.64" width="6.64" height="95.76"/><rect x="271.15" y="476.74" width="6.64" height="31.66"/><rect x="296.03" y="439.67" width="6.64" height="68.73"/><rect x="320.92" y="427.32" width="6.64" height="81.08"/><rect x="345.8" y="401.06" width="6.64" height="107.34"/><rect x="370.69" y="405.69" width="6.64" height="102.71"/><rect x="395.58" y="389.48" width="6.64" height="118.92"/></g>
<g stroke="#4a4a4a" stroke-width="1.1" fill="none"><rect x="230.5" y="369.4" width="174.2" height="139" fill="none"/><line x1="242.94" y1="508.4" x2="242.94" y2="511"/><line x1="242.94" y1="369.4" x2="242.94" y2="371.6"/><line x1="267.83" y1="508.4" x2="267.83" y2="511"/><line x1="267.83" y1="369.4" x2="267.83" y2="371.6"/><line x1="292.71" y1="508.4" x2="292.71" y2="511"/><line x1="292.71" y1="369.4" x2="292.71" y2="371.6"/><line x1="317.6" y1="508.4" x2="317.6" y2="511"/><line x1="317.6" y1="369.4" x2="317.6" y2="371.6"/><line x1="342.49" y1="508.4" x2="342.49" y2="511"/><line x1="342.49" y1="369.4" x2="342.49" y2="371.6"/><line x1="367.37" y1="508.4" x2="367.37" y2="511"/><line x1="367.37" y1="369.4" x2="367.37" y2="371.6"/><line x1="392.26" y1="508.4" x2="392.26" y2="511"/><line x1="392.26" y1="369.4" x2="392.26" y2="371.6"/><line x1="255.39" y1="508.4" x2="255.39" y2="509.9"/><line x1="255.39" y1="369.4" x2="255.39" y2="370.7"/><line x1="280.27" y1="508.4" x2="280.27" y2="509.9"/><line x1="280.27" y1="369.4" x2="280.27" y2="370.7"/><line x1="305.16" y1="508.4" x2="305.16" y2="509.9"/><line x1="305.16" y1="369.4" x2="305.16" y2="370.7"/><line x1="330.04" y1="508.4" x2="330.04" y2="509.9"/><line x1="330.04" y1="369.4" x2="330.04" y2="370.7"/><line x1="354.93" y1="508.4" x2="354.93" y2="509.9"/><line x1="354.93" y1="369.4" x2="354.93" y2="370.7"/><line x1="379.81" y1="508.4" x2="379.81" y2="509.9"/><line x1="379.81" y1="369.4" x2="379.81" y2="370.7"/><line x1="404.7" y1="508.4" x2="404.7" y2="509.9"/><line x1="404.7" y1="369.4" x2="404.7" y2="370.7"/><line x1="228.1" y1="508.4" x2="230.5" y2="508.4"/><line x1="402.5" y1="508.4" x2="404.7" y2="508.4"/><line x1="228.1" y1="492.96" x2="230.5" y2="492.96"/><line x1="402.5" y1="492.96" x2="404.7" y2="492.96"/><line x1="228.1" y1="477.51" x2="230.5" y2="477.51"/><line x1="402.5" y1="477.51" x2="404.7" y2="477.51"/><line x1="228.1" y1="462.07" x2="230.5" y2="462.07"/><line x1="402.5" y1="462.07" x2="404.7" y2="462.07"/><line x1="228.1" y1="446.62" x2="230.5" y2="446.62"/><line x1="402.5" y1="446.62" x2="404.7" y2="446.62"/><line x1="228.1" y1="431.18" x2="230.5" y2="431.18"/><line x1="402.5" y1="431.18" x2="404.7" y2="431.18"/><line x1="228.1" y1="415.73" x2="230.5" y2="415.73"/><line x1="402.5" y1="415.73" x2="404.7" y2="415.73"/><line x1="228.1" y1="400.29" x2="230.5" y2="400.29"/><line x1="402.5" y1="400.29" x2="404.7" y2="400.29"/><line x1="228.1" y1="384.84" x2="230.5" y2="384.84"/><line x1="402.5" y1="384.84" x2="404.7" y2="384.84"/><line x1="228.1" y1="369.4" x2="230.5" y2="369.4"/><line x1="402.5" y1="369.4" x2="404.7" y2="369.4"/><line x1="229" y1="500.68" x2="230.5" y2="500.68"/><line x1="403.4" y1="500.68" x2="404.7" y2="500.68"/><line x1="229" y1="492.96" x2="230.5" y2="492.96"/><line x1="403.4" y1="492.96" x2="404.7" y2="492.96"/><line x1="229" y1="485.23" x2="230.5" y2="485.23"/><line x1="403.4" y1="485.23" x2="404.7" y2="485.23"/><line x1="229" y1="477.51" x2="230.5" y2="477.51"/><line x1="403.4" y1="477.51" x2="404.7" y2="477.51"/><line x1="229" y1="469.79" x2="230.5" y2="469.79"/><line x1="403.4" y1="469.79" x2="404.7" y2="469.79"/><line x1="229" y1="462.07" x2="230.5" y2="462.07"/><line x1="403.4" y1="462.07" x2="404.7" y2="462.07"/><line x1="229" y1="454.34" x2="230.5" y2="454.34"/><line x1="403.4" y1="454.34" x2="404.7" y2="454.34"/><line x1="229" y1="446.62" x2="230.5" y2="446.62"/><line x1="403.4" y1="446.62" x2="404.7" y2="446.62"/><line x1="229" y1="438.9" x2="230.5" y2="438.9"/><line x1="403.4" y1="438.9" x2="404.7" y2="438.9"/><line x1="229" y1="431.18" x2="230.5" y2="431.18"/><line x1="403.4" y1="431.18" x2="404.7" y2="431.18"/><line x1="229" y1="423.46" x2="230.5" y2="423.46"/><line x1="403.4" y1="423.46" x2="404.7" y2="423.46"/><line x1="229" y1="415.73" x2="230.5" y2="415.73"/><line x1="403.4" y1="415.73" x2="404.7" y2="415.73"/><line x1="229" y1="408.01" x2="230.5" y2="408.01"/><line x1="403.4" y1="408.01" x2="404.7" y2="408.01"/><line x1="229" y1="400.29" x2="230.5" y2="400.29"/><line x1="403.4" y1="400.29" x2="404.7" y2="400.29"/><line x1="229" y1="392.57" x2="230.5" y2="392.57"/><line x1="403.4" y1="392.57" x2="404.7" y2="392.57"/><line x1="229" y1="384.84" x2="230.5" y2="384.84"/><line x1="403.4" y1="384.84" x2="404.7" y2="384.84"/><line x1="229" y1="377.12" x2="230.5" y2="377.12"/><line x1="403.4" y1="377.12" x2="404.7" y2="377.12"/></g>
<g font-family='"Liberation Sans", sans-serif' font-size="6" fill="#333" stroke="#333" stroke-width="0.2"><text x="242.94" y="518" text-anchor="middle">10</text><text x="267.83" y="518" text-anchor="middle">15</text><text x="292.71" y="518" text-anchor="middle">20</text><text x="317.6" y="518" text-anchor="middle">25</text><text x="342.49" y="518" text-anchor="middle">30</text><text x="367.37" y="518" text-anchor="middle">35</text><text x="392.26" y="518" text-anchor="middle">40</text><text x="226.8" y="510.56" text-anchor="end">0</text><text x="226.8" y="495.12" text-anchor="end">2</text><text x="226.8" y="479.67" text-anchor="end">4</text><text x="226.8" y="464.23" text-anchor="end">6</text><text x="226.8" y="448.78" text-anchor="end">8</text><text x="226.8" y="433.34" text-anchor="end">10</text><text x="226.8" y="417.89" text-anchor="end">12</text><text x="226.8" y="402.45" text-anchor="end">14</text><text x="226.8" y="387" text-anchor="end">16</text><text x="226.8" y="371.56" text-anchor="end">18</text></g>
<text transform="translate(317.3,363.6) scale(1,1.2)" x="0" y="0" text-anchor="middle" font-family='"Liberation Serif", serif' font-size="7.2" fill="#111" stroke="#111" stroke-width="0.12">GM_Jitter_20</text>
<text transform="translate(317.5,529.2) scale(1,1.2)" x="0" y="0" text-anchor="middle" font-family='"Liberation Serif", serif' font-size="7" fill="#111" stroke="#111" stroke-width="0.11">Speed(m/s)</text>
<text transform="translate(214,438.2) rotate(-90)" x="0" y="2.38" text-anchor="middle" font-family='"Liberation Serif", serif' font-size="7.2" fill="#111" stroke="#111" stroke-width="0.12">Jitter(ms)</text>
<text transform="translate(307.4,544)" x="0" y="0" text-anchor="middle" font-family='"Liberation Serif", serif' font-size="11.5" fill="#111" font-weight="bold">(f)</text>
<rect x="238.2" y="372.2" width="56" height="27.9" fill="#fff" stroke="#bbb" stroke-width="0.9"/>
<rect x="239.4" y="373.6" width="15.4" height="8" fill="#fdc48e" stroke="#7a5a40" stroke-width="0.6"/>
<text transform="translate(257,380.41) scale(1,1.2)" x="0" y="0" text-anchor="start" font-family='"Liberation Serif", serif' font-size="7.1" fill="#111" stroke="#111" stroke-width="0.11">COH*Delay</text>
<rect x="239.4" y="382.6" width="15.4" height="8.1" fill="#94da94" stroke="#4a6a4a" stroke-width="0.6"/>
<text transform="translate(257,389.46) scale(1,1.2)" x="0" y="0" text-anchor="start" font-family='"Liberation Serif", serif' font-size="7.1" fill="#111" stroke="#111" stroke-width="0.11">COH*LET</text>
<rect x="239.4" y="391.5" width="15.4" height="7.7" fill="#c3b1e2" stroke="#5a4a70" stroke-width="0.6"/>
<text transform="translate(257,398.16) scale(1,1.2)" x="0" y="0" text-anchor="start" font-family='"Liberation Serif", serif' font-size="7.1" fill="#111" stroke="#111" stroke-width="0.11">TCD*Delay</text></svg>
</body></html>
